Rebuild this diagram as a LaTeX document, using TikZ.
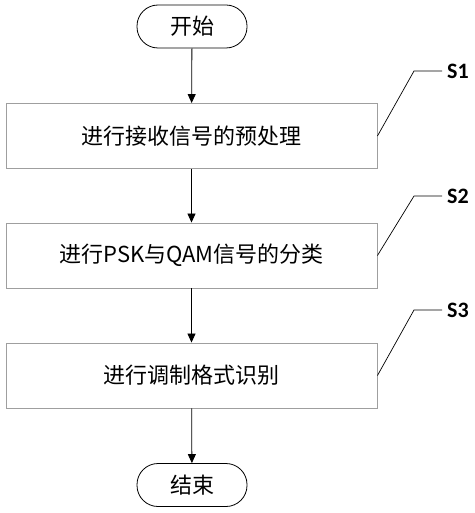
\documentclass[tikz,border=0pt]{standalone}
\usepackage{fontspec}
\newfontfamily\cjk{Noto Sans CJK SC}
\newfontfamily\etiq{Carlito}
\usetikzlibrary{arrows.meta}

\begin{document}
\begin{tikzpicture}[x=1pt,y=-1pt,
    etape/.style={draw=gray!75, line width=0.9pt, minimum width=371pt, minimum height=65pt,
      inner sep=0pt, font=\cjk\fontsize{22}{22}\selectfont},
    terminal/.style={draw, line width=0.8pt, rounded corners=21pt, minimum width=110pt,
      minimum height=43pt, inner sep=0pt, font=\cjk\fontsize{22}{22}\selectfont},
    repere/.style={anchor=west, inner sep=0pt, font=\etiq\bfseries\fontsize{22}{22}\selectfont},
    fleche/.style={-{Triangle[length=9pt,width=8pt]}, line width=0.8pt}]
    \useasboundingbox (0,0) rectangle (474,513);

    % noeuds
    \node[terminal] (debut) at (192,26.5) {开始};
    \node[etape] (e1) at (191.5,136) {进行接收信号的预处理};
    \node[etape] (e2) at (191.5,255.5) {进行PSK与QAM信号的分类};
    \node[etape] (e3) at (191.5,375.5) {进行调制格式识别};
    \node[terminal] (fin) at (192,485) {结束};

    % fleches
    \foreach \a/\b in {debut/e1,e1/e2,e2/e3,e3/fin}{
      \draw[fleche] (\a) -- (\b);
    }

    % reperes S1, S2, S3
    \foreach \i/\y in {1/71,2/196,3/310}{
      \node[repere] (s\i) at (447,\y) {S\i};
      \draw[line width=0.7pt] (e\i.east) -- (414,\y) -- ([xshift=-5pt]s\i.west);
    }
\end{tikzpicture}
\end{document}
